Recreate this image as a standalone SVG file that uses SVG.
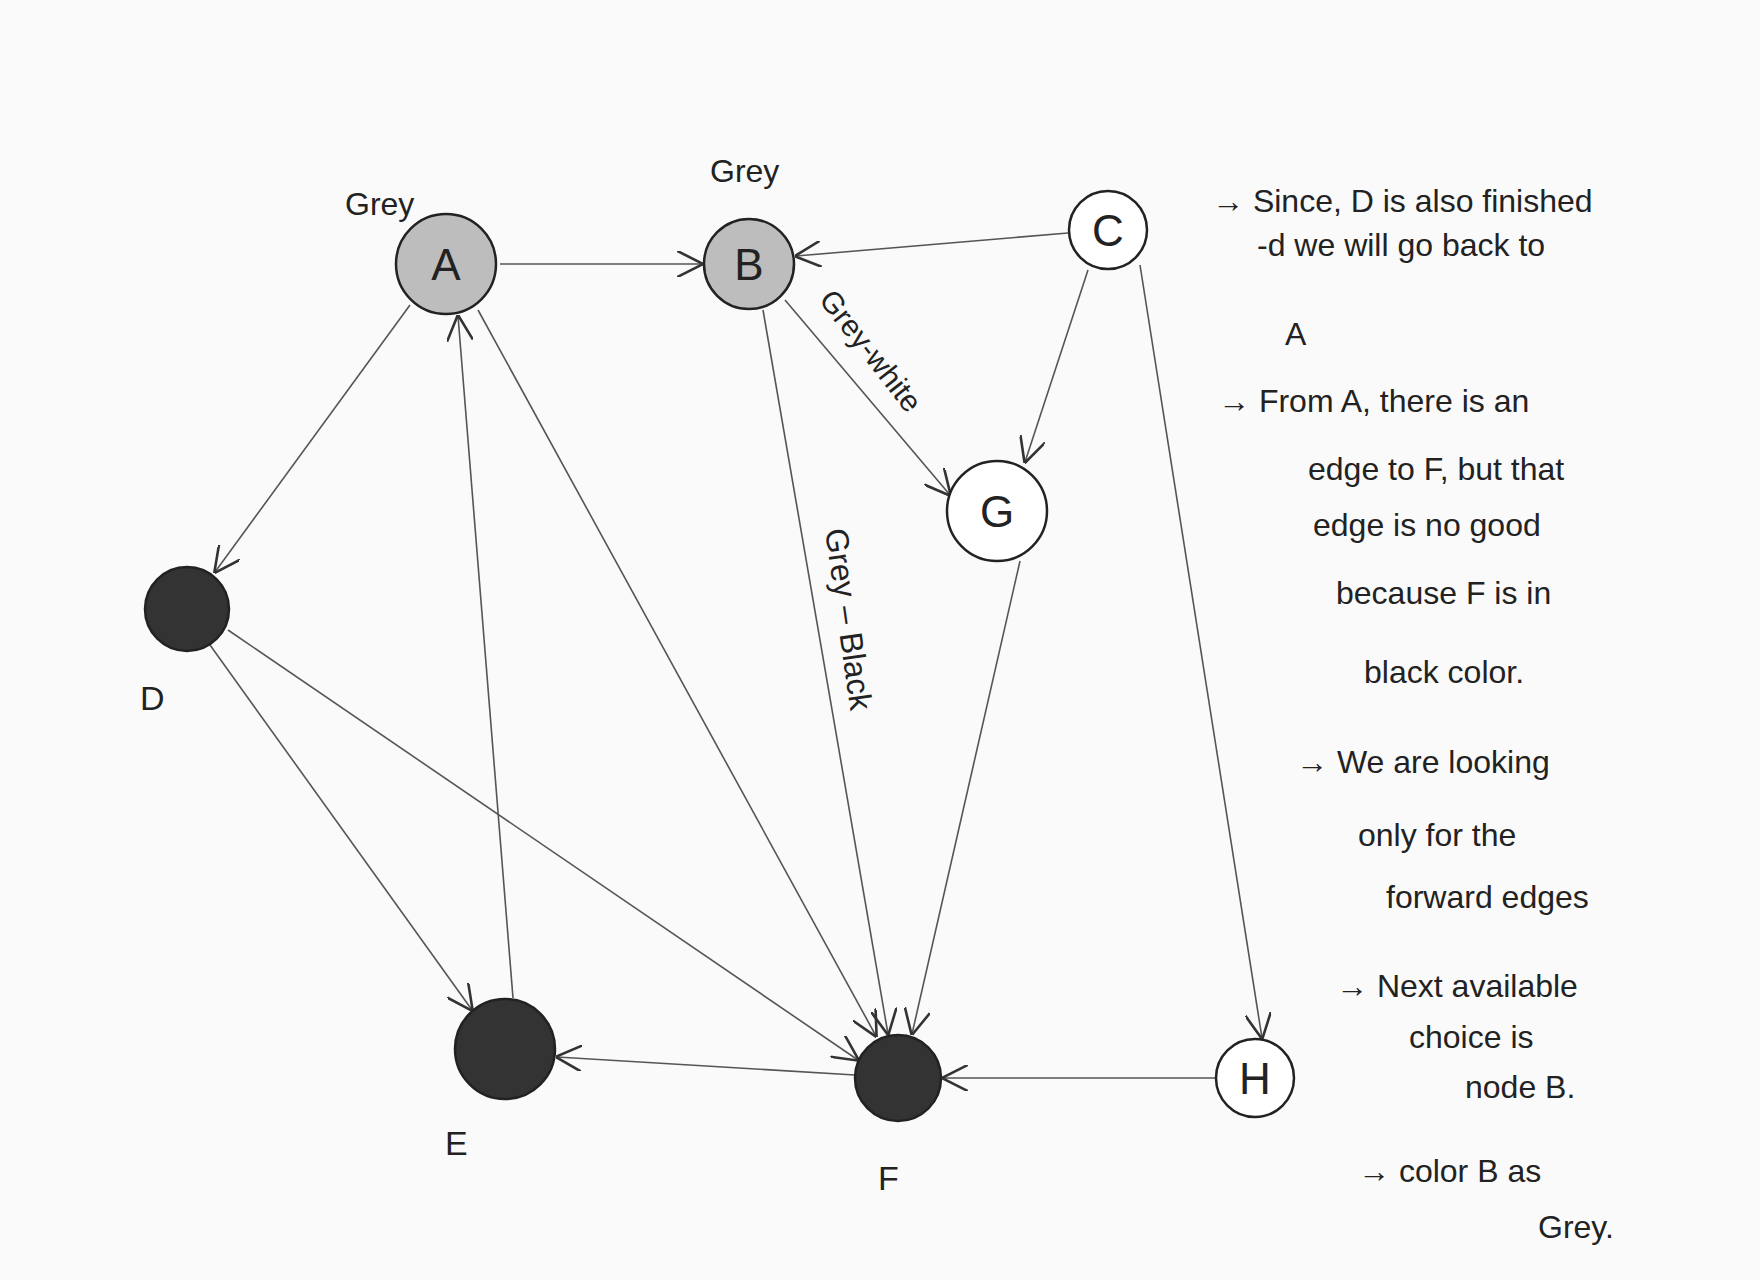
<svg xmlns="http://www.w3.org/2000/svg" width="1760" height="1280" viewBox="0 0 1760 1280">
<defs>
<marker id="ar" viewBox="0 0 20 20" refX="19" refY="10" markerWidth="26" markerHeight="26" markerUnits="userSpaceOnUse" orient="auto">
<path d="M0,0 L20,10 L0,20" fill="none" stroke="#333" stroke-width="2"/>
</marker>
<style>
.e{stroke:#555;stroke-width:1.6;fill:none;marker-end:url(#ar)}
.n{stroke:#222;stroke-width:2.5}
.t{font-family:"Liberation Sans",sans-serif;fill:#222}
.nl{font-family:"Liberation Sans",sans-serif;font-size:44px;fill:#222;text-anchor:middle;dominant-baseline:central}
.r{font-family:"Liberation Sans",sans-serif;font-size:32px;fill:#222}
</style>
</defs>
<rect width="1760" height="1280" fill="#fafafa"/>
<g id="connectors">
<line class="e" x1="500" y1="264" x2="702" y2="264"/>
<line class="e" x1="1068" y1="233" x2="796" y2="256"/>
<line class="e" x1="785" y1="300" x2="950" y2="495"/>
<line class="e" x1="1088" y1="270" x2="1025" y2="462"/>
<line class="e" x1="410" y1="305" x2="215" y2="572"/>
<line class="e" x1="513" y1="998" x2="458" y2="316"/>
<line class="e" x1="478" y1="310" x2="876" y2="1036"/>
<line class="e" x1="763" y1="310" x2="888" y2="1034"/>
<line class="e" x1="1020" y1="561" x2="912" y2="1034"/>
<line class="e" x1="1140" y1="265" x2="1262" y2="1038"/>
<line class="e" x1="1216" y1="1078" x2="943" y2="1078"/>
<line class="e" x1="855" y1="1075" x2="557" y2="1057"/>
<line class="e" x1="210" y1="645" x2="472" y2="1010"/>
<line class="e" x1="228" y1="630" x2="858" y2="1060"/>
<text class="t" font-size="30" transform="translate(818,300) rotate(52)">Grey-white</text>
<text class="t" font-size="32" transform="translate(825,530) rotate(82)">Grey – Black</text>
</g>
<g id="A"><circle class="n" cx="446" cy="264" r="50" fill="#bdbdbd"/><text class="nl" x="446" y="264">A</text><text class="t" font-size="32" x="345" y="215">Grey</text></g>
<g id="B"><circle class="n" cx="749" cy="264" r="45" fill="#bdbdbd"/><text class="nl" x="749" y="264">B</text><text class="t" font-size="32" x="710" y="182">Grey</text></g>
<g id="C"><circle class="n" cx="1108" cy="230" r="39" fill="#fff"/><text class="nl" x="1108" y="230">C</text></g>
<g id="G"><circle class="n" cx="997" cy="511" r="50" fill="#fff"/><text class="nl" x="997" y="511">G</text></g>
<g id="D"><circle class="n" cx="187" cy="609" r="42" fill="#333"/><text class="t" font-size="34" x="140" y="710">D</text></g>
<g id="E"><circle class="n" cx="505" cy="1049" r="50" fill="#333"/><text class="t" font-size="34" x="445" y="1155">E</text></g>
<g id="F"><circle class="n" cx="898" cy="1078" r="43" fill="#333"/><text class="t" font-size="34" x="878" y="1190">F</text></g>
<g id="H"><circle class="n" cx="1255" cy="1078" r="39" fill="#fff"/><text class="nl" x="1255" y="1078">H</text></g>
<g id="notes">
<text class="r" x="1212" y="212">→ Since, D is also finished</text>
<text class="r" x="1257" y="256">-d  we will go back to</text>
<text class="r" x="1285" y="345">A</text>
<text class="r" x="1218" y="412">→ From A, there is an</text>
<text class="r" x="1308" y="480">edge to F, but that</text>
<text class="r" x="1313" y="536">edge is no good</text>
<text class="r" x="1336" y="604">because F is in</text>
<text class="r" x="1364" y="683">black color.</text>
<text class="r" x="1296" y="773">→  We are looking</text>
<text class="r" x="1358" y="846">only for the</text>
<text class="r" x="1386" y="908">forward edges</text>
<text class="r" x="1336" y="997">→  Next available</text>
<text class="r" x="1409" y="1048">choice is</text>
<text class="r" x="1465" y="1098">node B.</text>
<text class="r" x="1358" y="1182">→ color B as</text>
<text class="r" x="1538" y="1238">Grey.</text>
</g>
</svg>
